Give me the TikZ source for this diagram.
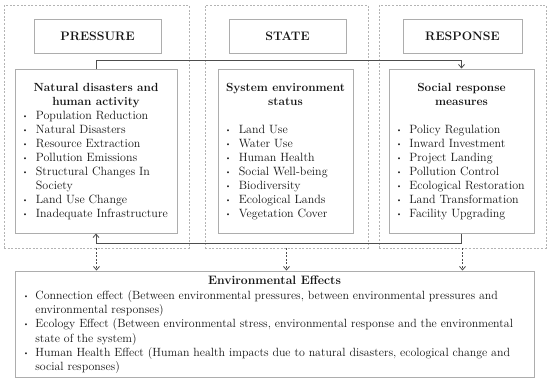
\documentclass[tikz,border=0pt]{standalone}
\usepackage{fontspec}
\usetikzlibrary{arrows.meta}
\definecolor{boxgray}{HTML}{ADADAD}
\definecolor{dotgray}{HTML}{B4B4B4}
\definecolor{linegray}{HTML}{4D4D4D}
\definecolor{txt}{HTML}{141414}
\newcommand\bul{\raisebox{1.3pt}{\scalebox{0.6}{\textbullet}}}
\newcommand\itm[2][13.5pt]{\makebox[#1][l]{\bul}#2}
\newcommand\cont[2][13.5pt]{\hspace*{#1}#2}
\begin{document}
\begin{tikzpicture}[x=1pt,y=-1pt,
  outerbox/.style={draw=dotgray,line width=0.8pt,dash pattern=on 2pt off 1.6pt,inner sep=0pt},
  headbox/.style={draw=boxgray,line width=1pt,fill=white,inner sep=0pt,minimum height=34pt,
    text=txt,font=\fontsize{12.3}{14}\selectfont\bfseries},
  contentbox/.style={draw=boxgray,line width=1pt,fill=white,inner sep=0pt,minimum height=164pt},
  body/.style={inner sep=0pt,text=txt,font=\fontsize{12}{14}\selectfont},
  titletxt/.style={inner sep=0pt,text=txt,font=\fontsize{11.8}{14}\selectfont\bfseries},
  conn/.style={draw=linegray,line width=0.8pt},
  tip/.style={-{Straight Barb[length=3.5pt,width=6pt]}},
  dashconn/.style={draw=linegray,line width=0.8pt,dash pattern=on 2pt off 1.5pt}
]
\useasboundingbox (0,0) rectangle (550,383);

% outer dotted groups
\node[outerbox,minimum width=185pt,minimum height=242.5pt] (oP) at (96.5,126.75) {};
\node[outerbox,minimum width=163pt,minimum height=242.5pt] (oS) at (286.5,126.75) {};
\node[outerbox,minimum width=167pt,minimum height=242.5pt] (oR) at (462.5,126.75) {};

% headers
\node[headbox,minimum width=127pt] (hP) at (97.5,36) {PRESSURE};
\node[headbox,minimum width=117pt] (hS) at (287.5,36) {STATE};
\node[headbox,minimum width=119pt] (hR) at (462.5,36) {RESPONSE};

% content boxes
\node[contentbox,minimum width=162pt] (cP) at (96,151) {};
\node[contentbox,minimum width=135pt] (cS) at (285.5,151) {};
\node[contentbox,minimum width=145pt] (cR) at (461.5,151) {};

% content texts
\node[titletxt,anchor=base] (tP) at (96,91.5)
  {\begin{tabular}[t]{@{}c@{}}Natural disasters and\\ human activity\end{tabular}};
\node[body,anchor=base west] (lP) at (22.2,119.5)
  {\begin{tabular}[t]{@{}l@{}}
  \itm{Population Reduction}\\
  \itm{Natural Disasters}\\
  \itm{Resource Extraction}\\
  \itm{Pollution Emissions}\\
  \itm{Structural Changes In}\\
  \cont{Society}\\
  \itm{Land Use Change}\\
  \itm{Inadequate Infrastructure}
  \end{tabular}};

\node[titletxt,anchor=base] (tS) at (285.5,91.5)
  {\begin{tabular}[t]{@{}c@{}}System environment\\ status\end{tabular}};
\node[body,anchor=base west] (lS) at (225.2,133.5)
  {\begin{tabular}[t]{@{}l@{}}
  \itm{Land Use}\\
  \itm{Water Use}\\
  \itm{Human Health}\\
  \itm{Social Well-being}\\
  \itm{Biodiversity}\\
  \itm{Ecological Lands}\\
  \itm{Vegetation Cover}
  \end{tabular}};

\node[titletxt,anchor=base] (tR) at (461.5,91.5)
  {\begin{tabular}[t]{@{}c@{}}Social response\\ measures\end{tabular}};
\node[body,anchor=base west] (lR) at (396.2,133.5)
  {\begin{tabular}[t]{@{}l@{}}
  \itm[13pt]{Policy Regulation}\\
  \itm[13pt]{Inward Investment}\\
  \itm[13pt]{Project Landing}\\
  \itm[13pt]{Pollution Control}\\
  \itm[13pt]{Ecological Restoration}\\
  \itm[13pt]{Land Transformation}\\
  \itm[13pt]{Facility Upgrading}
  \end{tabular}};

% effects box
\node[contentbox,minimum width=519pt,minimum height=106pt] (eff) at (274.5,324) {};
\node[titletxt,anchor=base,font=\fontsize{12.2}{14}\selectfont\bfseries] (tE) at (274.5,284.5) {Environmental Effects};
\node[body,anchor=base west,font=\fontsize{11.9}{14.2}\selectfont] (lE) at (23.2,299.5)
  {\begin{tabular}[t]{@{}l@{}}
  \itm[12pt]{Connection effect (Between environmental pressures, between environmental pressures and}\\
  \cont[12pt]{environmental responses)}\\
  \itm[12pt]{Ecology Effect (Between environmental stress, environmental response and the environmental}\\
  \cont[12pt]{state of the system)}\\
  \itm[12pt]{Human Health Effect (Human health impacts due to natural disasters, ecological change and}\\
  \cont[12pt]{social responses)}
  \end{tabular}};

% connectors
\coordinate (topline) at (0,60);
\coordinate (botline) at (0,243);
\draw[conn,tip] (cP.north) -- (cP.north |- topline) -| (cR.north);
\draw[conn,tip] (cR.south) -- (cR.south |- botline) -| (cP.south);

\draw[dashconn,tip] (oP.south) -- (oP.south |- eff.north);
\draw[dashconn,tip] (oS.south) -- (oS.south |- eff.north);
\draw[dashconn,tip] (oR.south) -- (oR.south |- eff.north);
\end{tikzpicture}
\end{document}
